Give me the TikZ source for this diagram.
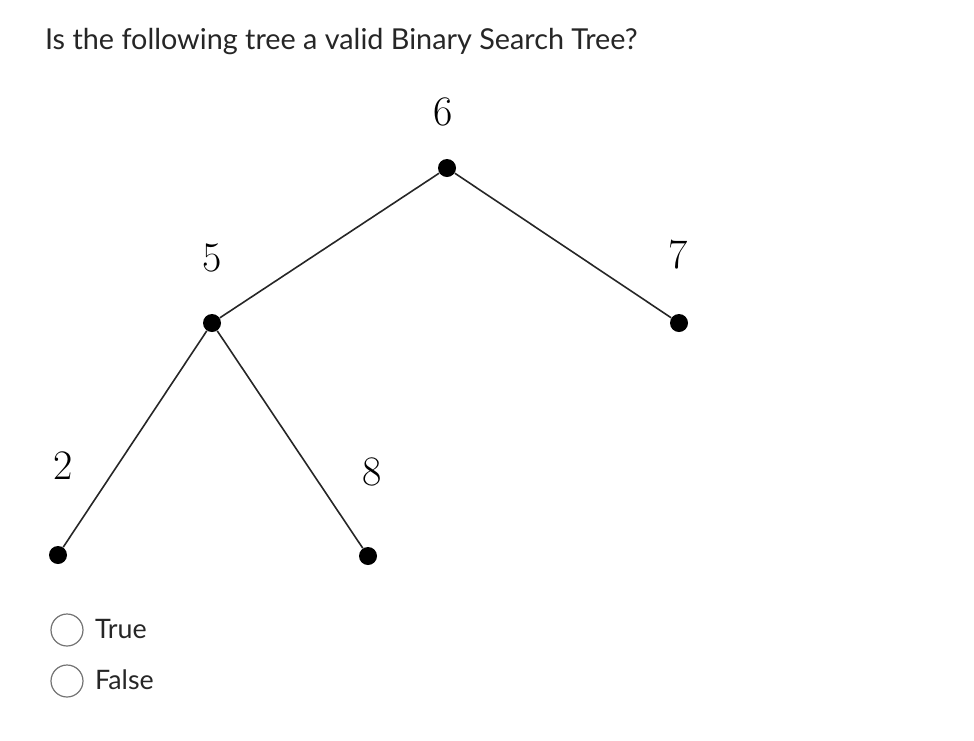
\documentclass[tikz,border=0pt]{standalone}
\usepackage{fontspec}
\newfontfamily\uifont{Lato}
\begin{document}
\begin{tikzpicture}[x=0.5pt,y=-0.5pt,
  dot/.style={circle,fill=black,inner sep=0pt,minimum size=9pt},
  num/.style={font=\fontsize{21}{23}\selectfont},
  edge/.style={draw=black!85,line width=0.8pt},
  radio/.style={circle,draw=black!55,line width=0.6pt,minimum size=16pt,inner sep=0pt},
  ui/.style={font=\uifont\fontsize{14.4}{17}\selectfont,text=black!85,anchor=west}]
\useasboundingbox (0,0) rectangle (974,740);
\node[ui] (q) at (38,42) {Is the following tree a valid Binary Search Tree?};
\node[dot] (n6) at (447,168) {};
\node[dot] (n5) at (212,323) {};
\node[dot] (n7) at (679,323) {};
\node[dot] (n2) at (58,555) {};
\node[dot] (n8) at (368,556) {};
\draw[edge] (n6) -- (n5);
\draw[edge] (n6) -- (n7);
\draw[edge] (n5) -- (n2);
\draw[edge] (n5) -- (n8);
\node[num] (l6) at (443,112) {6};
\node[num] (l5) at (212,258) {5};
\node[num] (l7) at (678,255) {7};
\node[num] (l2) at (63,466) {2};
\node[num] (l8) at (372,472) {8};
\node[radio] (r1) at (67,630) {};
\node[radio] (r2) at (67,681) {};
\node[ui,font=\uifont\fontsize{13.4}{15}\selectfont] (t) at (88,629) {True};
\node[ui,font=\uifont\fontsize{13.4}{15}\selectfont] (f) at (88,680) {False};
\end{tikzpicture}
\end{document}
